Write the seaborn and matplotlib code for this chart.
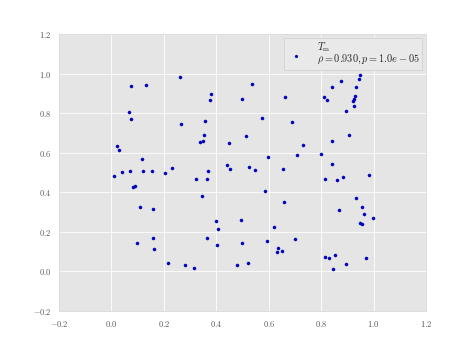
import numpy as np
import pandas as pd
import matplotlib
matplotlib.use("Agg")
import matplotlib.pyplot as plt
import seaborn as sns

x_vals = [0.0095, 0.0756, 0.1337, 0.261, 0.068, 0.0756, 0.265, 0.021, 0.027, 0.116,
          0.041, 0.069, 0.121, 0.155, 0.206, 0.231, 0.322, 0.0805, 0.089, 0.110,
          0.158, 0.096, 0.160, 0.163, 0.216, 0.279, 0.316, 0.535, 0.3795, 0.376,
          0.4985, 0.662, 0.811, 0.824, 0.5756, 0.687, 0.358, 0.3514, 0.339, 0.349,
          0.5137, 0.449, 0.730, 0.598, 0.7086, 0.7986, 0.439, 0.453, 0.526, 0.549,
          0.655, 0.368, 0.3655, 0.8157, 0.585, 0.345, 0.658, 0.3986, 0.4947, 0.407,
          0.620, 0.363, 0.4985, 0.5935, 0.701, 0.402, 0.634, 0.630, 0.649, 0.4795,
          0.521, 0.815, 0.830, 0.947, 0.943, 0.877, 0.8416, 0.934, 0.929, 0.925,
          0.921, 0.924, 0.8948, 0.905, 0.840, 0.840, 0.9837, 0.8606, 0.884, 0.934,
          0.957, 0.963, 0.8697, 0.997, 0.947, 0.9555, 0.8545, 0.9707, 0.8948, 0.847]
y_vals = [0.483, 0.9375, 0.944, 0.982, 0.808, 0.769, 0.744, 0.633, 0.615, 0.570,
          0.5015, 0.509, 0.5055, 0.507, 0.4955, 0.523, 0.465, 0.425, 0.4335, 0.324,
          0.3175, 0.1425, 0.168, 0.111, 0.045, 0.032, 0.019, 0.949, 0.897, 0.868,
          0.872, 0.882, 0.880, 0.865, 0.776, 0.754, 0.7626, 0.692, 0.653, 0.657,
          0.6835, 0.6467, 0.640, 0.580, 0.590, 0.591, 0.536, 0.516, 0.528, 0.514,
          0.519, 0.509, 0.469, 0.469, 0.408, 0.3795, 0.353, 0.2535, 0.262, 0.2167,
          0.2248, 0.171, 0.146, 0.1527, 0.164, 0.1326, 0.119, 0.0958, 0.102, 0.032,
          0.043, 0.0736, 0.067, 0.993, 0.971, 0.9607, 0.934, 0.930, 0.8886, 0.8735,
          0.860, 0.835, 0.8095, 0.6905, 0.658, 0.542, 0.489, 0.4627, 0.476, 0.373,
          0.324, 0.289, 0.309, 0.2687, 0.2434, 0.240, 0.0837, 0.0685, 0.0368, 0.010]
series_label = "$T_{\\mathrm{m}}$\n$\\rho = 0.930, p = 1.0e-05$"
x_ticks = [-0.2, 0.0, 0.2, 0.4, 0.6, 0.8, 1.0, 1.2]
y_ticks = [-0.2, 0.0, 0.2, 0.4, 0.6, 0.8, 1.0, 1.2]

sns.set_style("darkgrid", {
    "axes.facecolor": "#E5E5E5",
    "grid.color": "white",
    "axes.edgecolor": "#D8D8D8",
    "xtick.bottom": False,
    "ytick.left": False,
})
plt.rcParams["font.family"] = "serif"
plt.rcParams["font.serif"] = ["cmr10", "DejaVu Serif"]
plt.rcParams["mathtext.fontset"] = "cm"
plt.rcParams["axes.formatter.use_mathtext"] = True
plt.rcParams["axes.unicode_minus"] = True

df = pd.DataFrame({"x": x_vals, "y": y_vals})

fig = plt.figure(figsize=(4.74, 3.46), dpi=100)
ax = fig.add_axes([59 / 474, 35 / 346, 367 / 474, 277 / 346])
sns.scatterplot(data=df, x="x", y="y", ax=ax, s=5, color="#0000D0",
                edgecolor="#00009A", linewidth=0.3, label=series_label)
ax.set_xlim(-0.2, 1.2)
ax.set_ylim(-0.2, 1.2)
ax.set_xticks(x_ticks)
ax.set_yticks(y_ticks)
ax.set_xticklabels([f"${t:.1f}$" for t in x_ticks])
ax.set_yticklabels([f"${t:.1f}$" for t in y_ticks])
ax.tick_params(labelsize=6, colors="#555555", pad=2)
ax.grid(True, color="white", linewidth=0.6)
ax.set_xlabel("")
ax.set_ylabel("")
for s in ax.spines.values():
    s.set_linewidth(0.6)
leg = ax.legend(loc="upper right", fontsize=7.4, frameon=True, fancybox=False,
                facecolor="#E9E9E9", edgecolor="#D2D2D2", framealpha=1,
                markerscale=0.9, borderpad=0.3, handletextpad=1.1,
                handlelength=1.8, handleheight=1.9,
                bbox_to_anchor=(1.0, 1.0), borderaxespad=0.35)
leg.get_frame().set_linewidth(0.6)
for t in leg.get_texts():
    t.set_linespacing(0.85)
for col in leg._legend_handle_box.get_children():
    for hp in col.get_children():
        hp.align = "bottom"

fig.savefig("out.png", dpi=100)
